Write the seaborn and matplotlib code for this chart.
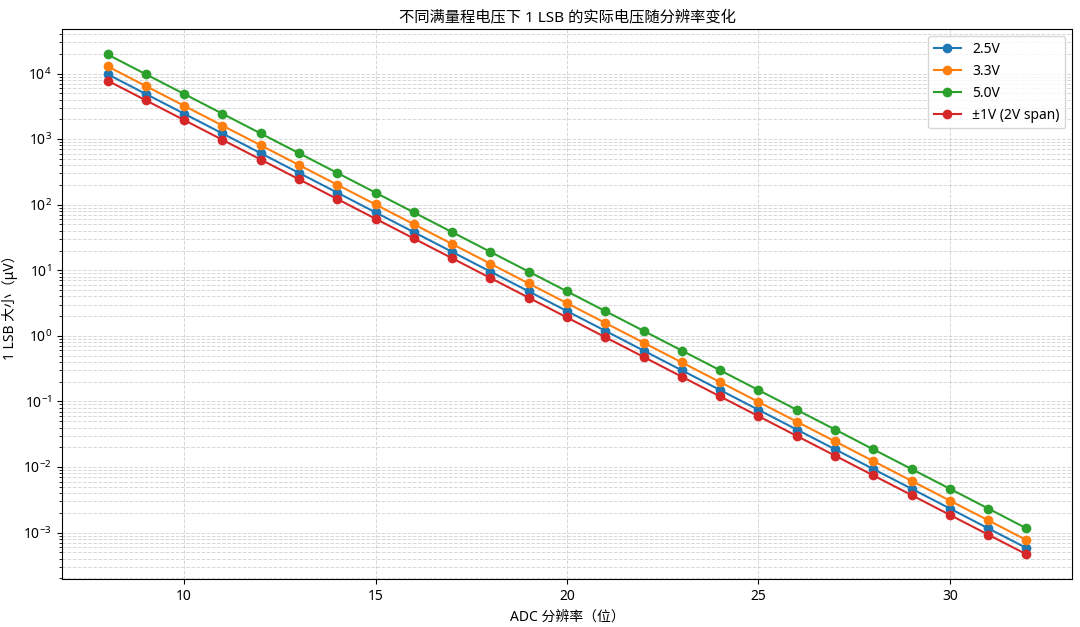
import matplotlib
matplotlib.use("Agg")
import matplotlib.pyplot as plt
import pandas as pd
import seaborn as sns

plt.rcParams['font.family'] = ['Noto Sans', 'Noto Sans CJK SC', 'DejaVu Sans']
plt.rcParams['axes.unicode_minus'] = False

bits = [8, 9, 10, 11, 12, 13, 14, 15, 16, 17, 18, 19, 20,
        21, 22, 23, 24, 25, 26, 27, 28, 29, 30, 31, 32]

# 1 LSB in uV
lsb_2v5 = [9765.6, 4882.8, 2441.4, 1220.7, 610.35, 305.18, 152.59, 76.29, 38.15,
           19.07, 9.537, 4.768, 2.384, 1.192, 0.596, 0.298, 0.149, 0.0745,
           0.03725, 0.01863, 0.00931, 0.00466, 0.00233, 0.00116, 0.000582]
lsb_3v3 = [12890.6, 6445.3, 3222.7, 1611.3, 805.7, 402.8, 201.4, 100.7, 50.35,
           25.18, 12.59, 6.294, 3.147, 1.574, 0.787, 0.393, 0.197, 0.0983,
           0.0492, 0.0246, 0.0123, 0.00615, 0.00307, 0.00154, 0.000768]
lsb_5v0 = [19531.3, 9765.6, 4882.8, 2441.4, 1220.7, 610.4, 305.2, 152.6, 76.29,
           38.15, 19.07, 9.537, 4.768, 2.384, 1.192, 0.596, 0.298, 0.149,
           0.0745, 0.0373, 0.0186, 0.00931, 0.00466, 0.00233, 0.00116]
lsb_pm1 = [7812.5, 3906.3, 1953.1, 976.6, 488.3, 244.1, 122.1, 61.04, 30.52,
           15.26, 7.629, 3.815, 1.907, 0.954, 0.477, 0.238, 0.119, 0.0596,
           0.0298, 0.0149, 0.00745, 0.00373, 0.00186, 0.000931, 0.000466]

labels = ['2.5V', '3.3V', '5.0V', '±1V (2V span)']
series = [lsb_2v5, lsb_3v3, lsb_5v0, lsb_pm1]

rows = []
for lab, vals in zip(labels, series):
    for b, v in zip(bits, vals):
        rows.append({'bits': b, 'lsb': v, 'range': lab})
df = pd.DataFrame(rows)

fig, ax = plt.subplots(figsize=(10.8, 6.27), dpi=100)
sns.lineplot(data=df, x='bits', y='lsb', hue='range', hue_order=labels,
             palette=['#1f77b4', '#ff7f0e', '#2ca02c', '#d62728'],
             marker='o', markersize=7, markeredgewidth=0, linewidth=1.5, ax=ax)
ax.set_yscale('log')
ax.grid(True, which='both', linestyle='--', linewidth=0.7, alpha=0.5)
ax.set_title('不同满量程电压下 1 LSB 的实际电压随分辨率变化', fontsize=11)
ax.set_xlabel('ADC 分辨率（位）', fontsize=10)
ax.set_ylabel('1 LSB 大小（μV）', fontsize=10)
ax.legend(loc='upper right', fontsize=10)
fig.subplots_adjust(left=0.057, right=0.993, top=0.953, bottom=0.076)
fig.savefig('out.png', dpi=100)
